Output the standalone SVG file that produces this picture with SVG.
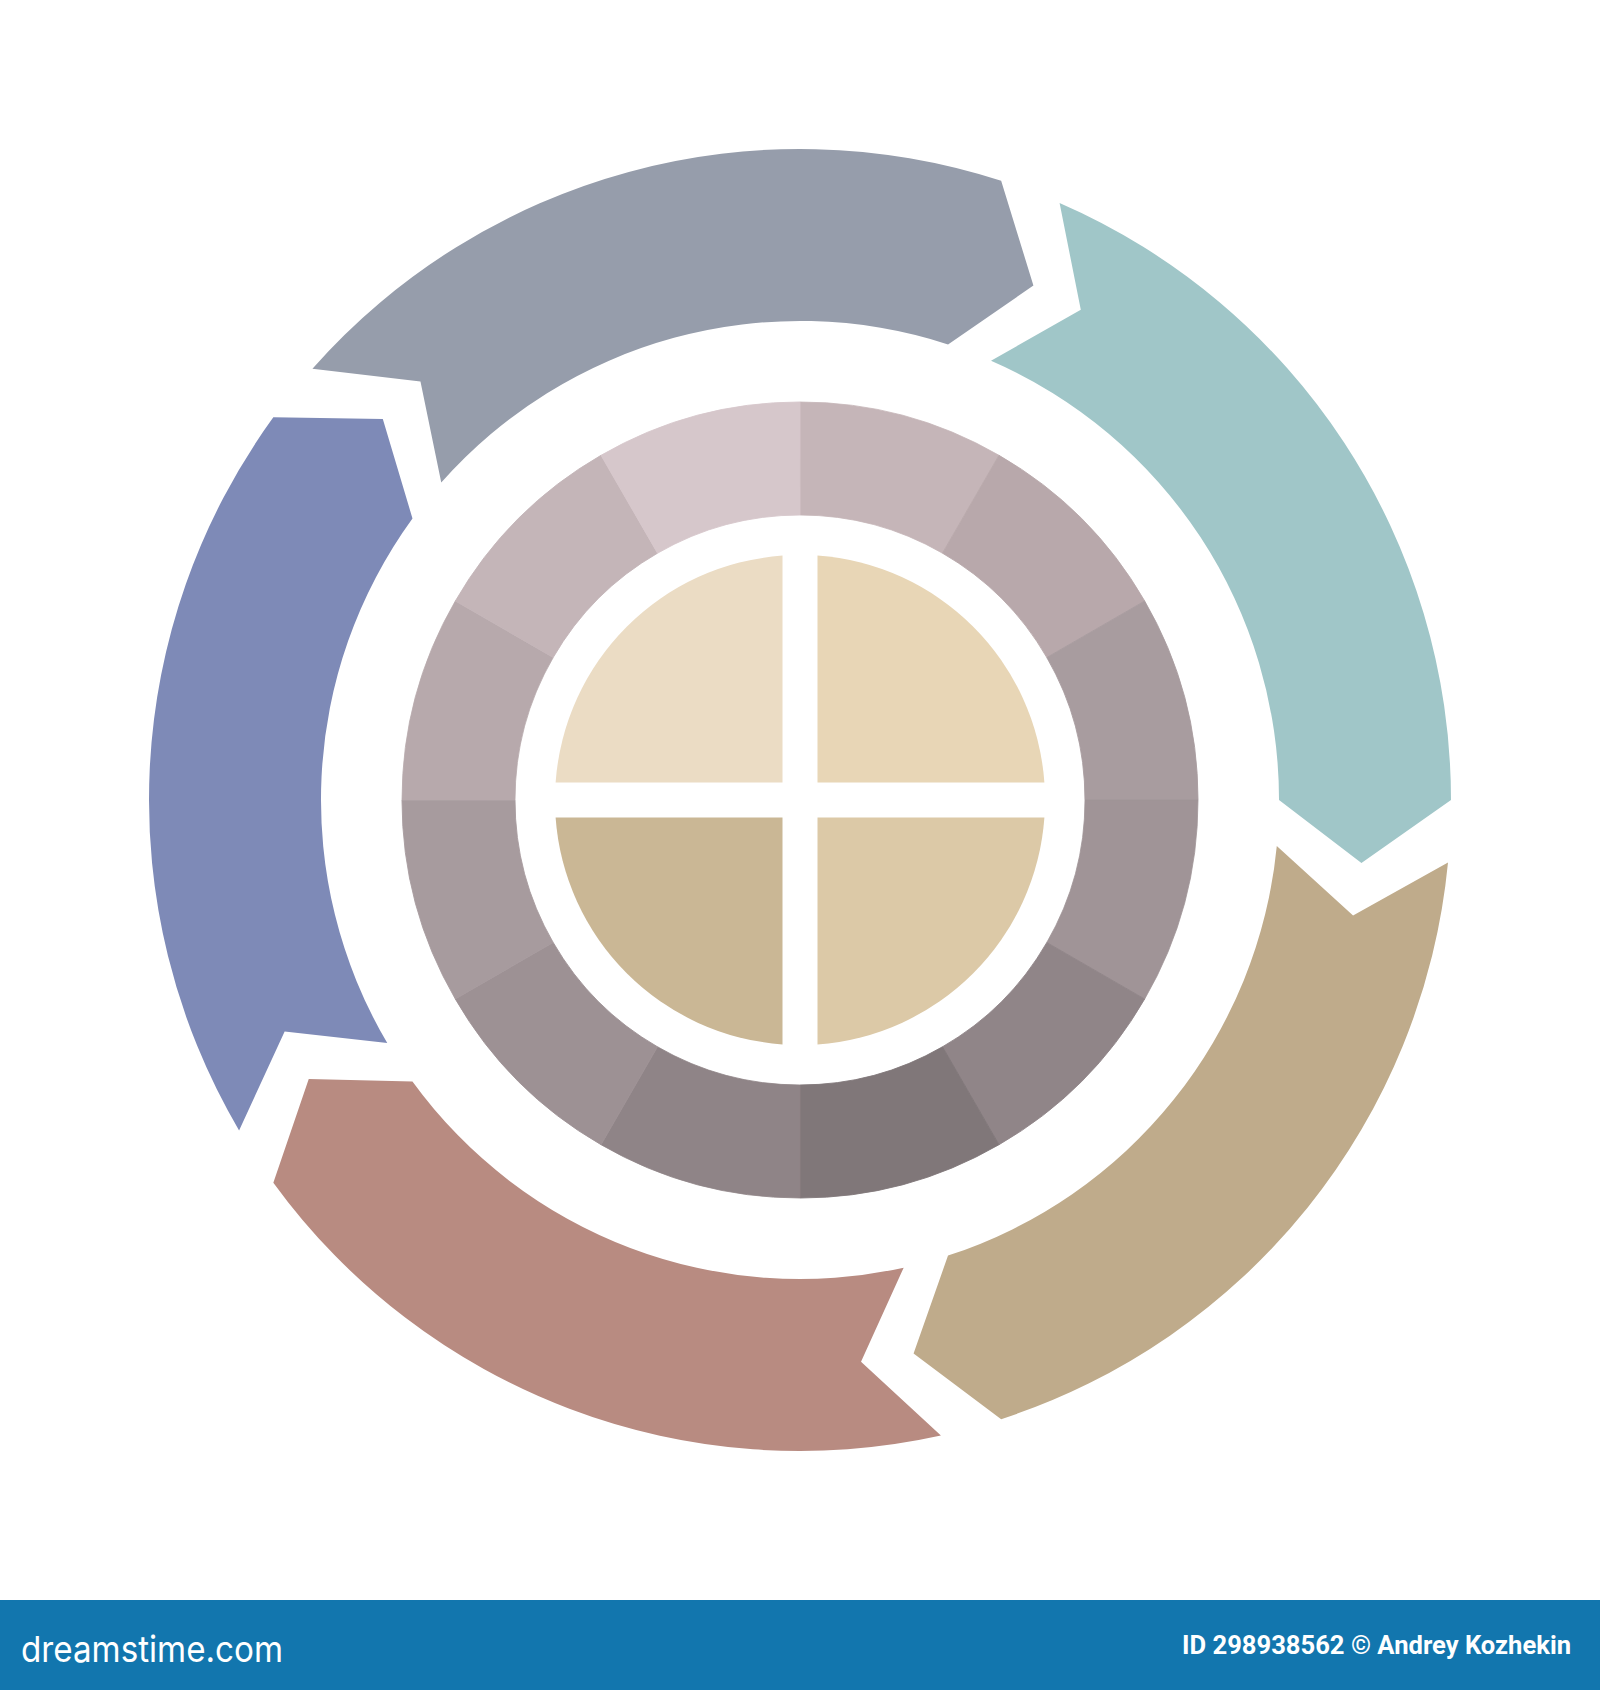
<svg xmlns="http://www.w3.org/2000/svg" xmlns:xlink="http://www.w3.org/1999/xlink" width="1600" height="1690" viewBox="0 0 1600 1690">
<style>
.bar{fill:#1276ae}
.brand{font-family:Inter,"DejaVu Sans",sans-serif;font-size:36px;fill:#ffffff}
.credit{font-family:Roboto,"Liberation Sans",sans-serif;font-size:26px;font-weight:bold;fill:#ffffff}
</style>
<defs>
<path id="arrow" d="M800,149 A651,651 0 0 1 1397.0,540.4 L1340.0,633.9 L1239.3,609.0 A479,479 0 0 0 800,321 L862.0,238.4 Z"/>
<path id="seg" d="M800,402 A398,398 0 0 1 999,455.3 L942.5,553.2 A285,285 0 0 0 800,515 Z" stroke-width="0.8" stroke-linejoin="round"/>
</defs>
<rect width="1600" height="1690" fill="#ffffff"/>
<g id="arrows">
<g id="arrow-gray"><use xlink:href="#arrow" href="#arrow" fill="#969dab" transform="rotate(311.5 800 800)"/></g>
<g id="arrow-teal"><use xlink:href="#arrow" href="#arrow" fill="#a0c6c8" transform="rotate(23.5 800 800)"/></g>
<g id="arrow-tan"><use xlink:href="#arrow" href="#arrow" fill="#bfab8b" transform="rotate(95.5 800 800)"/></g>
<g id="arrow-red"><use xlink:href="#arrow" href="#arrow" fill="#b88b81" transform="rotate(167.5 800 800)"/></g>
<g id="arrow-blue"><use xlink:href="#arrow" href="#arrow" fill="#7e8ab7" transform="rotate(239.5 800 800)"/></g>
</g>
<g id="middle-ring">
<use href="#seg" xlink:href="#seg" fill="#c5b5b8" stroke="#c5b5b8" transform="rotate(0 800 800)"/>
<use href="#seg" xlink:href="#seg" fill="#b8a8ab" stroke="#b8a8ab" transform="rotate(30 800 800)"/>
<use href="#seg" xlink:href="#seg" fill="#a89c9f" stroke="#a89c9f" transform="rotate(60 800 800)"/>
<use href="#seg" xlink:href="#seg" fill="#a09497" stroke="#a09497" transform="rotate(90 800 800)"/>
<use href="#seg" xlink:href="#seg" fill="#908588" stroke="#908588" transform="rotate(120 800 800)"/>
<use href="#seg" xlink:href="#seg" fill="#807779" stroke="#807779" transform="rotate(150 800 800)"/>
<use href="#seg" xlink:href="#seg" fill="#8f8487" stroke="#8f8487" transform="rotate(180 800 800)"/>
<use href="#seg" xlink:href="#seg" fill="#9d9194" stroke="#9d9194" transform="rotate(210 800 800)"/>
<use href="#seg" xlink:href="#seg" fill="#a79b9e" stroke="#a79b9e" transform="rotate(240 800 800)"/>
<use href="#seg" xlink:href="#seg" fill="#b7a9ac" stroke="#b7a9ac" transform="rotate(270 800 800)"/>
<use href="#seg" xlink:href="#seg" fill="#c4b5b8" stroke="#c4b5b8" transform="rotate(300 800 800)"/>
<use href="#seg" xlink:href="#seg" fill="#d6c7cb" stroke="#d6c7cb" transform="rotate(330 800 800)"/>
</g>
<g id="center-quarters">
<path id="q-tl" d="M782.5,782.5 H555.6 A245,245 0 0 1 782.5,555.6 Z" fill="#ebdcc4"/>
<path id="q-tr" d="M817.5,782.5 V555.6 A245,245 0 0 1 1044.4,782.5 Z" fill="#e8d6b6"/>
<path id="q-br" d="M817.5,817.5 H1044.4 A245,245 0 0 1 817.5,1044.4 Z" fill="#dcc9a7"/>
<path id="q-bl" d="M782.5,817.5 V1044.4 A245,245 0 0 1 555.6,817.5 Z" fill="#cab795"/>
</g>
<g id="footer">
<rect class="bar" x="0" y="1600" width="1600" height="90"/>
<text class="brand" x="21" y="1662" textLength="262" lengthAdjust="spacingAndGlyphs">dreamstime.com</text>
<text class="credit" x="1182" y="1654" textLength="389" lengthAdjust="spacingAndGlyphs">ID 298938562 © Andrey Kozhekin</text>
</g>
</svg>
